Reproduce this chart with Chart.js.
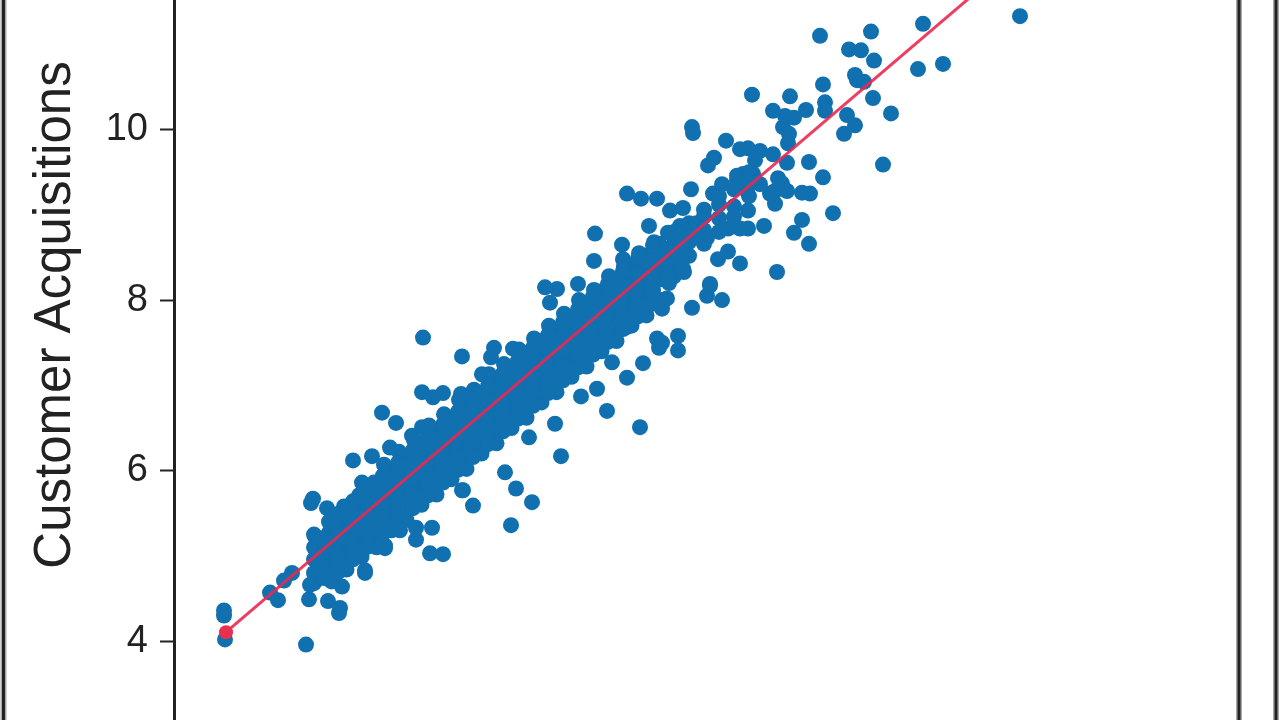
<!DOCTYPE html>
<html>
<head>
<meta charset="utf-8">
<title>Customer Acquisitions</title>
<script src="https://cdn.jsdelivr.net/npm/chart.js@4"></script>
<style>
    html, body { margin: 0; padding: 0; background: #fff; overflow: hidden; height: 720px; }
    /* chart keeps 8px round the plot for point overflow, push it out of the window */
    canvas { display: block; margin-top: -8px; }
</style>
</head>
<body>
<canvas id="scatterChart" width="1280" height="736"></canvas>
<script>
const yTicks = [4, 6, 8, 10];
const yTitle = 'Customer Acquisitions';

// scatter points (x axis has no visible labels)
const pointsX = [
    84.6, 74.9, 69.7, 64.6, 67.5, 68.7, 70.0, 76.9, 74.4, 68.1, 68.3, 69.0,
    64.9, 57.8, 61.6, 69.9, 65.1, 65.1, 63.2, 59.9, 71.7, 67.3, 68.1, 67.0,
    61.1, 62.0, 60.9, 61.5, 61.4, 70.9, 63.5, 64.9, 61.3, 59.9, 58.6, 57.4,
    56.6, 58.1, 56.9, 57.9, 60.4, 61.3, 62.8, 63.6, 59.6, 58.6, 57.3, 60.8,
    51.8, 51.9, 55.2, 54.0, 53.4, 56.3,
    45.3, 46.7, 48.3, 51.7, 65.9, 62.8, 62.0, 63.5, 60.3, 56.6, 55.4, 54.4,
    54.8, 51.8, 53.3, 53.6, 53.6, 50.9, 50.4, 50.4, 48.3, 48.5, 48.8, 46.9,
    48.8, 45.2, 49.3, 44.9, 42.1, 44.8, 47.5, 49.6, 50.9, 53.9, 54.8, 56.3,
    57.9, 58.0, 60.1, 60.1, 57.4, 59.0, 57.4, 55.4, 56.6, 53.3, 50.6, 40.4,
    38.3, 37.1, 37.6, 42.0, 44.6,
    24.9, 28.8, 32.0, 33.9, 31.7, 30.8, 24.8, 25.9, 28.7, 20.8, 22.2, 26.9,
    17.9, 21.6, 19.8, 23.8, 24.8, 18.8, 43.3, 38.7, 38.1, 35.5, 46.6, 42.3,
    40.7, 45.3, 43.8, 33.1, 34.2, 35.8, 29.9, 28.8,
    33.7, 5.0, 5.0, 5.1, 13.2, 10.4, 9.6, 11.0, 11.8, 13.5, 15.4, 16.5, 16.6,
    16.8, 13.6, 19.1, 26.9, 25.8, 21.1, 14.1, 15.3, 13.9, 13.7, 24.2, 28.9, 24.2,
    14.0, 14.0, 14.0, 14.0, 14.0,
    15.5, 15.5, 15.5, 15.5, 15.5,
    17.0, 17.0, 17.0, 17.0, 17.0,
    18.5, 18.5, 18.5, 18.5, 18.5,
    20.0, 20.0, 20.0, 20.0, 20.0,
    21.5, 21.5, 21.5, 21.5, 21.5,
    23.0, 23.0, 23.0, 23.0, 23.0,
    24.5, 24.5, 24.5, 24.5, 24.5,
    26.0, 26.0, 26.0, 26.0, 26.0,
    27.5, 27.5, 27.5, 27.5, 27.5,
    29.0, 29.0, 29.0, 29.0, 29.0,
    30.5, 30.5, 30.5, 30.5, 30.5,
    32.0, 32.0, 32.0, 32.0, 32.0,
    33.5, 33.5, 33.5, 33.5, 33.5,
    35.0, 35.0, 35.0, 35.0, 35.0,
    36.5, 36.5, 36.5, 36.5, 36.5,
    38.0, 38.0, 38.0, 38.0, 38.0,
    39.5, 39.5, 39.5, 39.5, 39.5,
    41.0, 41.0, 41.0, 41.0, 41.0,
    42.5, 42.5, 42.5, 42.5, 42.5,
    44.0, 44.0, 44.0, 44.0, 44.0,
    45.5, 45.5, 45.5, 45.5, 45.5,
    47.0, 47.0, 47.0, 47.0, 47.0,
    48.5, 48.5, 48.5, 48.5,
    50.0, 50.0, 50.0, 50.0, 50.0,
    51.5, 51.5, 51.5, 51.5,
    53.0, 53.0, 53.0, 53.0,
    54.5, 54.5, 54.5, 54.5,
    56.0, 56.0, 56.0,
    57.5, 57.5, 57.5,
    14.75, 14.75, 14.75, 14.75,
    16.25, 16.25, 16.25, 16.25,
    17.75, 17.75, 17.75, 17.75,
    19.25, 19.25, 19.25, 19.25,
    20.75, 20.75, 20.75, 20.75,
    22.25, 22.25, 22.25, 22.25,
    23.75, 23.75, 23.75, 23.75,
    25.25, 25.25, 25.25, 25.25,
    26.75, 26.75, 26.75, 26.75,
    28.25, 28.25, 28.25, 28.25,
    29.75, 29.75, 29.75, 29.75,
    31.25, 31.25, 31.25, 31.25,
    32.75, 32.75, 32.75, 32.75,
    34.25, 34.25, 34.25, 34.25,
    35.75, 35.75, 35.75, 35.75,
    37.25, 37.25, 37.25, 37.25,
    38.75, 38.75, 38.75, 38.75,
    40.25, 40.25, 40.25, 40.25,
    41.75, 41.75, 41.75, 41.75,
    43.25, 43.25, 43.25, 43.25,
    44.75, 44.75, 44.75, 44.75,
    46.25, 46.25, 46.25, 46.25,
    47.75, 47.75, 47.75, 47.75,
    49.25, 49.25, 49.25,
    50.75, 50.75, 50.75,
    52.25, 52.25,
    17.1, 16.1, 18.6, 19.1, 21.1, 22.6, 25.6,
    15.0, 16.5, 18.0, 19.5, 21.0, 22.5, 24.0, 25.5, 27.0, 28.5, 30.0, 31.5, 33.0,
    34.5, 36.0, 37.5, 39.0, 40.5, 42.0, 43.5, 45.0, 46.5, 48.0, 49.5, 51.0,
    15.75, 17.25, 18.75, 20.25, 21.75, 23.25, 24.75, 26.25, 27.75, 29.25, 30.75, 32.25,
    33.75, 35.25, 36.75, 38.25, 39.75, 41.25, 42.75, 44.25, 45.75, 47.25, 48.75,
    21.0, 22.5, 24.0, 25.5, 27.0, 28.5, 30.0, 31.5, 33.0, 34.5,
    36.0, 37.5, 39.0, 40.5, 42.0, 43.5, 45.0, 46.5, 48.0,
    16.4, 17.9, 19.4, 20.9, 22.4, 23.9, 25.4, 26.9, 28.4, 29.9, 31.4, 32.9,
    34.4, 35.9, 37.4, 38.9, 40.4, 41.9, 43.4, 44.9, 46.4, 47.9, 49.4,
    16.4, 17.9, 19.4, 20.9, 22.4, 23.9, 25.4, 26.9, 28.4, 29.9, 31.4, 32.9,
    34.4, 35.9, 37.4, 38.9, 40.4, 41.9, 43.4, 44.9, 46.4, 47.9, 49.4,
    16.4, 17.9, 19.4, 20.9, 22.4, 23.9, 25.4, 26.9, 28.4, 29.9, 31.4, 32.9,
    34.4, 35.9, 37.4, 38.9, 40.4, 41.9, 43.4, 44.9, 46.4, 47.9
];
const pointsY = [
    11.33, 11.24, 11.15, 11.10, 10.94, 10.93, 10.81, 10.77, 10.71, 10.64, 10.58, 10.56,
    10.53, 10.41, 10.39, 10.37, 10.32, 10.22, 10.23, 10.22, 10.19, 10.17, 10.05, 9.95,
    10.16, 10.14, 10.03, 9.95, 9.84, 9.59, 9.62, 9.44, 9.61, 9.71, 9.75, 9.78,
    9.77, 9.64, 9.48, 9.43, 9.43, 9.28, 9.26, 9.25, 9.25, 9.36, 9.28, 9.37,
    10.03, 9.96, 9.87, 9.67, 9.58, 9.40,
    9.25, 9.19, 9.19, 9.30, 9.02, 8.94, 8.79, 8.66, 8.33, 8.43, 8.57, 8.48,
    8.00, 7.91, 8.05, 8.17, 8.19, 8.37, 7.58, 7.41, 7.55, 7.44, 7.50, 7.26,
    7.90, 7.68, 8.02, 8.48, 8.78, 8.65, 8.87, 9.05, 9.08, 9.25, 9.36, 9.46,
    9.48, 9.43, 9.28, 9.13, 9.05, 8.87, 8.84, 8.84, 8.84, 8.73, 8.87, 8.19,
    8.13, 8.15, 7.97, 8.46, 8.19,
    7.56, 7.34, 7.44, 7.43, 7.33, 7.13, 6.92, 6.86, 6.90, 6.68, 6.56, 6.91,
    6.12, 6.27, 6.17, 6.41, 6.51, 5.86, 6.70, 6.17, 6.55, 6.39, 6.51, 6.96,
    6.87, 7.09, 7.27, 5.98, 5.79, 5.63, 5.59, 5.77,
    5.36, 4.30, 4.36, 4.02, 3.96, 4.48, 4.57, 4.71, 4.80, 4.49, 4.47, 4.33, 4.39,
    4.64, 4.66, 4.80, 5.02, 5.33, 5.09, 5.23, 5.56, 5.67, 5.62, 5.19, 5.77, 5.33,
    5.25, 5.10, 4.96, 4.80, 4.68,
    5.40, 5.27, 5.08, 4.93, 4.81,
    5.58, 5.42, 5.25, 5.09, 4.98,
    5.71, 5.55, 5.38, 5.22, 5.10,
    5.86, 5.72, 5.54, 5.36, 5.26,
    6.02, 5.85, 5.70, 5.52, 5.40,
    6.14, 6.00, 5.83, 5.66, 5.56,
    6.32, 6.16, 5.99, 5.82, 5.71,
    6.45, 6.30, 6.13, 5.97, 5.87,
    6.60, 6.46, 6.29, 6.12, 6.02,
    6.76, 6.60, 6.44, 6.26, 6.17,
    6.90, 6.76, 6.58, 6.42, 6.32,
    7.05, 6.91, 6.74, 6.58, 6.47,
    7.21, 7.05, 6.88, 6.72, 6.62,
    7.35, 7.21, 7.03, 6.87, 6.78,
    7.52, 7.36, 7.18, 7.02, 6.93,
    7.66, 7.50, 7.33, 7.17, 7.07,
    7.80, 7.66, 7.49, 7.32, 7.22,
    7.95, 7.80, 7.63, 7.47, 7.38,
    8.10, 7.96, 7.78, 7.62, 7.52,
    8.24, 8.10, 7.93, 7.78, 7.68,
    8.38, 8.24, 8.08, 7.93, 7.84,
    8.52, 8.40, 8.24, 8.08, 8.00,
    8.66, 8.54, 8.38, 8.24,
    8.80, 8.66, 8.52, 8.38, 8.28,
    8.90, 8.82, 8.68, 8.52,
    9.06, 8.98, 8.82, 8.66,
    9.22, 9.12, 8.96, 8.80,
    9.30, 9.10, 8.98,
    9.50, 9.40, 9.22,
    5.20, 5.02, 4.88, 4.75,
    5.33, 5.17, 5.02, 4.88,
    5.50, 5.33, 5.17, 5.04,
    5.63, 5.47, 5.30, 5.17,
    5.80, 5.62, 5.45, 5.33,
    5.93, 5.77, 5.60, 5.48,
    6.08, 5.92, 5.75, 5.63,
    6.24, 6.06, 5.90, 5.79,
    6.38, 6.22, 6.05, 5.94,
    6.53, 6.37, 6.20, 6.09,
    6.68, 6.52, 6.34, 6.24,
    6.84, 6.66, 6.50, 6.39,
    6.98, 6.82, 6.65, 6.54,
    7.13, 6.96, 6.80, 6.69,
    7.28, 7.12, 6.95, 6.85,
    7.43, 7.27, 7.10, 7.00,
    7.58, 7.42, 7.25, 7.14,
    7.73, 7.56, 7.40, 7.30,
    7.88, 7.71, 7.55, 7.45,
    8.03, 7.86, 7.70, 7.60,
    8.17, 8.01, 7.86, 7.76,
    8.31, 8.16, 8.00, 7.92,
    8.46, 8.31, 8.16, 8.06,
    8.60, 8.45, 8.31,
    8.75, 8.60, 8.45,
    8.90, 8.74,
    4.95, 4.83, 5.12, 4.83, 5.12, 5.30, 5.03,
    4.74, 4.88, 5.03, 5.20, 5.33, 5.50, 5.62, 5.80, 5.93, 6.10, 6.23, 6.40, 6.53,
    6.70, 6.83, 7.00, 7.13, 7.30, 7.43, 7.60, 7.73, 7.90, 8.03, 8.20, 8.33,
    4.70, 4.84, 4.99, 5.10, 5.30, 5.42, 5.60, 5.72, 5.90, 6.02, 6.20, 6.32,
    6.50, 6.62, 6.80, 6.92, 7.10, 7.22, 7.40, 7.52, 7.70, 7.82, 8.00,
    6.07, 6.22, 6.36, 6.53, 6.66, 6.83, 6.95, 7.13, 7.25, 7.42,
    7.55, 7.70, 7.84, 8.00, 8.12, 8.28, 8.40, 8.55, 8.68,
    4.96, 5.11, 5.26, 5.41, 5.56, 5.71, 5.86, 6.01, 6.16, 6.31, 6.46, 6.61,
    6.76, 6.91, 7.06, 7.21, 7.36, 7.51, 7.66, 7.81, 7.96, 8.11, 8.26,
    5.49, 5.64, 5.79, 5.94, 6.09, 6.24, 6.39, 6.54, 6.69, 6.84, 6.99, 7.14,
    7.29, 7.44, 7.59, 7.74, 7.89, 8.04, 8.19, 8.34, 8.49, 8.64, 8.79,
    4.81, 4.96, 5.11, 5.26, 5.41, 5.56, 5.71, 5.86, 6.01, 6.16, 6.31, 6.46,
    6.61, 6.76, 6.91, 7.06, 7.21, 7.36, 7.51, 7.66, 7.81, 7.96
];

// fit line ends
const fitX = [5.2, 81.0];
const fitY = [4.105, 11.69];

// right side border + outer frame + rotated title
const framePlugin = {
    id: 'frame',
    afterDraw(chart) {
        const { ctx, chartArea } = chart;
        const lineXs = [3.5, chartArea.right, 1276];
        ctx.save();
        // soft grey edge first, dark core on top
        [['#a8a8a8', 6], ['#222', 3]].forEach(([color, width]) => {
            ctx.strokeStyle = color;
            ctx.lineWidth = width;
            ctx.beginPath();
            lineXs.forEach(x => {
                ctx.moveTo(x, 0);
                ctx.lineTo(x, 736);
            });
            ctx.stroke();
        });

        ctx.translate(70, 323);
        ctx.rotate(-Math.PI / 2);
        ctx.fillStyle = '#222';
        ctx.font = '51px "Liberation Sans"';
        ctx.textAlign = 'center';
        ctx.textBaseline = 'alphabetic';
        ctx.fillText(yTitle, 0, 0);
        ctx.restore();
    }
};

new Chart(document.getElementById('scatterChart'), {
    type: 'scatter',
    data: {
        datasets: [
            {
                type: 'line',
                label: 'Fit',
                data: fitX.map((x, i) => ({ x, y: fitY[i] })),
                borderColor: 'rgba(235,40,80,0.9)',
                backgroundColor: '#e8304f',
                borderWidth: 3,
                pointRadius: [7, 0],
                pointBorderWidth: 0,
                order: 0
            },
            {
                label: 'Customers',
                data: pointsX.map((x, i) => ({ x, y: pointsY[i] })),
                backgroundColor: '#1170af',
                pointRadius: 8,
                pointBorderWidth: 0,
                order: 1
            }
        ]
    },
    plugins: [framePlugin],
    options: {
        responsive: false,
        animation: false,
        devicePixelRatio: 1,
        layout: { padding: { left: 0, right: 41, top: 0, bottom: 0 } },
        plugins: { legend: { display: false }, tooltip: { enabled: false } },
        scales: {
            x: { type: 'linear', display: false, min: 0, max: 106.5 },
            y: {
                min: 3.075,
                max: 11.52,
                afterBuildTicks: scale => { scale.ticks = yTicks.map(value => ({ value })); },
                afterFit: scale => {
                    scale.width = 174;
                    scale.paddingTop = 0;
                    scale.paddingBottom = 0;
                },
                border: { color: '#222', width: 3 },
                grid: { drawOnChartArea: false, drawTicks: true, tickLength: 14, tickWidth: 2, tickColor: '#222' },
                ticks: {
                    color: '#222',
                    padding: 12,
                    font: { family: '"Liberation Sans"', size: 38 }
                }
            }
        }
    }
});
</script>
</body>
</html>
